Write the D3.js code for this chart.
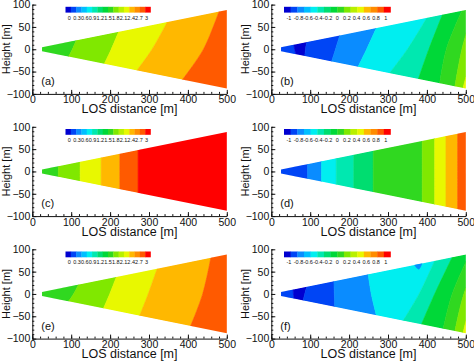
<!DOCTYPE html>
<html>
<head>
<meta charset="utf-8">
<script src="https://cdn.jsdelivr.net/npm/d3@7"></script>
<style>
  body { margin: 0; background: #fff; }
  svg { display: block; font-family: "Liberation Sans", Arial, sans-serif; }
</style>
</head>
<body>
<svg id="chart" width="474" height="361"></svg>
<script>
// axis ticks
var xTicks = [0, 100, 200, 300, 400, 500];
var yTicks = [-100, -50, 0, 50, 100];
var xMinor = d3.range(0, 501, 20);
var yMinor = d3.range(-100, 101, 10);

// beam (LOS wedge): start, end distance and half opening angle in degrees
var beamStart = 25, beamEnd = 500, beamAngle = 10;

// colour legends
var leftLabels = ["0", "0.3", "0.6", "0.9", "1.2", "1.5", "1.8", "2.1", "2.4", "2.7", "3"];
var rightLabels = ["-1", "-0.8", "-0.6", "-0.4", "-0.2", "0", "0.2", "0.4", "0.6", "0.8", "1"];
var leftRange = [-0.15, 3.15];
var rightRange = [-1.1, 1.1];
var palette = ["#0000d0", "#0045f5", "#0a8cff", "#00bfff", "#00eef0", "#00e8b0", "#00dd70", "#00d838",
  "#30d820", "#80e800", "#b8f000", "#e8f800", "#ffb800", "#ff8c00", "#ff5a00", "#ff0000"];

// contour bands: value of each band, and x where each band boundary meets
// the upper edge, the beam axis (height 0) and the lower edge
var aLevels = [1.6, 1.8, 2.2, 2.45, 2.85];
var aTop = [113, 222, 347, 480];
var aMid = [103, 203, 308, 440];
var aBot = [93, 185, 269, 386];

var bLevels = [-0.9, -1.03, -0.9, -0.75, -0.48, -0.35, -0.07, 0.07, 0.2, 0.48];
var bTop = [58, 91, 176, 270, 400, 440, 490, 520, 560];
var bMid = [60, 88, 165, 245, 350, 405, 450, 490, 520];
var bBot = [63, 86, 155, 223, 304, 378, 433, 472, 493];

var cLevels = [1.6, 1.8, 2.2, 2.45, 2.85, 3.05];
var cTop = [67, 123, 177, 225, 272];
var cMid = [67, 123, 177, 225, 272];
var cBot = [67, 123, 177, 225, 272];

var dLevels = [-0.9, -0.75, -0.48, -0.35, -0.2, 0.07, 0.2, 0.48, 0.62, 0.9];
var dTop = [93, 129, 167, 212, 262, 388, 420, 449, 479];
var dMid = [93, 129, 167, 212, 262, 388, 420, 449, 479];
var dBot = [93, 129, 167, 212, 262, 388, 420, 449, 479];

var eLevels = [1.6, 1.8, 2.2, 2.45, 2.85];
var eTop = [119, 216, 321, 459];
var eMid = [106, 199, 298, 438];
var eBot = [93, 183, 276, 407];

var fLevels = [-0.9, -1.03, -0.9, -0.75, -0.48, -0.35, -0.07, 0.07, 0.2, 0.48];
var fTop = [56, 91, 161, 249, 420, 465, 510, 540, 570];
var fMid = [57, 86, 162, 257, 380, 420, 465, 495, 520];
var fBot = [58, 82, 163, 270, 339, 386, 442, 472, 493];
// small island near the upper edge of (f)
var fPatchX = [362, 379, 390];
var fPatchY = [72, 55, 74];
var fPatchLevel = -0.75;

var panels = [
  { name: "(a)", levels: aLevels, top: aTop, mid: aMid, bot: aBot },
  { name: "(b)", levels: bLevels, top: bTop, mid: bMid, bot: bBot },
  { name: "(c)", levels: cLevels, top: cTop, mid: cMid, bot: cBot },
  { name: "(d)", levels: dLevels, top: dTop, mid: dMid, bot: dBot },
  { name: "(e)", levels: eLevels, top: eTop, mid: eMid, bot: eBot },
  { name: "(f)", levels: fLevels, top: fTop, mid: fMid, bot: fBot,
    patch: { xs: fPatchX, ys: fPatchY, level: fPatchLevel } }
];

// layout
var colLeft = [32.3, 271.3], rowTop = [4.6, 126.8, 249.3];
var plotW = 194.5, plotH = 89.3;

var svg = d3.select("#chart");
var tanA = Math.tan(beamAngle * Math.PI / 180);
function half(d) { return d * tanA; }

panels.forEach(function (p, i) {
  var col = i % 2, row = Math.floor(i / 2);
  var left = colLeft[col], top = rowTop[row];
  var x = d3.scaleLinear().domain([0, 500]).range([left, left + plotW]);
  var y = d3.scaleLinear().domain([-100, 100]).range([top + plotH, top]);
  var range = col ? rightRange : leftRange;
  var color = d3.scaleQuantize().domain(range).range(palette);
  var g = svg.append("g");

  var poly = d3.line().x(function (d) { return x(d[0]); }).y(function (d) { return y(d[1]); });
  var curve = d3.line().x(function (d) { return x(d[0]); }).y(function (d) { return y(d[1]); })
    .curve(d3.curveCatmullRom);

  var wedge = [[beamStart, half(beamStart)], [beamEnd, half(beamEnd)],
    [beamEnd, -half(beamEnd)], [beamStart, -half(beamStart)]];
  g.append("clipPath").attr("id", "clip" + i)
    .append("path").attr("d", poly(wedge) + "Z");

  // boundaries, with the outer ones beyond the beam
  var bounds = [[[0, 5], [0, 0], [0, -5]]];
  p.top.forEach(function (t, j) {
    bounds.push([[t, half(t)], [p.mid[j], 0], [p.bot[j], -half(p.bot[j])]]);
  });
  bounds.push([[600, 150], [600, 0], [600, -150]]);

  var bands = g.append("g").attr("clip-path", "url(#clip" + i + ")");
  p.levels.forEach(function (v, j) {
    var a = bounds[j], b = bounds[j + 1].slice().reverse();
    bands.append("path")
      .attr("d", curve(a) + curve(b).replace(/^M/, "L") + "Z")
      .attr("fill", color(v))
      .attr("stroke", color(v))
      .attr("stroke-width", 0.6);
  });
  if (p.patch) {
    var pts = p.patch.xs.map(function (d, k) { return [d, p.patch.ys[k]]; });
    bands.append("path")
      .attr("d", curve(pts) + "Z")
      .attr("fill", color(p.patch.level));
  }

  // axes, ticks inside
  g.append("g").attr("transform", "translate(0," + (top + plotH) + ")")
    .call(d3.axisBottom(x).tickValues(xTicks).tickSizeInner(-4).tickSizeOuter(0).tickPadding(2));
  g.append("g").attr("transform", "translate(0," + (top + plotH) + ")")
    .call(d3.axisBottom(x).tickValues(xMinor).tickSizeInner(-2).tickSizeOuter(0).tickFormat(""))
    .select(".domain").remove();
  g.append("g").attr("transform", "translate(" + left + ",0)")
    .call(d3.axisLeft(y).tickValues(yTicks).tickSizeInner(-4).tickSizeOuter(0).tickPadding(2));
  g.append("g").attr("transform", "translate(" + left + ",0)")
    .call(d3.axisLeft(y).tickValues(yMinor).tickSizeInner(-2).tickSizeOuter(0).tickFormat(""))
    .select(".domain").remove();
  g.selectAll(".tick text").attr("font-size", 10.5).attr("font-family", null).attr("fill", "#111");
  g.selectAll(".domain, .tick line").attr("stroke", "#111");

  g.append("text")
    .attr("x", left + plotW / 2).attr("y", top + plotH + 19.4)
    .attr("text-anchor", "middle").attr("font-size", 12.5).attr("fill", "#111")
    .text("LOS distance [m]");
  g.append("text")
    .attr("transform", "translate(" + (left - 22.5) + "," + (top + plotH / 2) + ") rotate(-90)")
    .attr("text-anchor", "middle").attr("font-size", 11).attr("fill", "#111")
    .text("Height [m]");
  g.append("text")
    .attr("x", left + 9).attr("y", top + plotH - 9)
    .attr("font-size", 11).attr("fill", "#111")
    .text(p.name);

  // colour bar
  var bl = left + (col ? 12.7 : 33.2), bw = col ? 106.5 : 85;
  var cb = d3.scaleLinear().domain(range).range([bl, bl + bw]);
  var bar = g.append("g");
  palette.forEach(function (c) {
    var ext = color.invertExtent(c);
    bar.append("rect")
      .attr("x", cb(ext[0])).attr("y", top + 2.2)
      .attr("width", cb(ext[1]) - cb(ext[0]) + 0.3).attr("height", 5.8)
      .attr("fill", c);
  });
  (col ? rightLabels : leftLabels).forEach(function (t) {
    bar.append("text")
      .attr("x", cb(+t)).attr("y", top + 15)
      .attr("text-anchor", "middle").attr("font-size", 5.5).attr("fill", "#111")
      .text(t);
  });
});
</script>
</body>
</html>
